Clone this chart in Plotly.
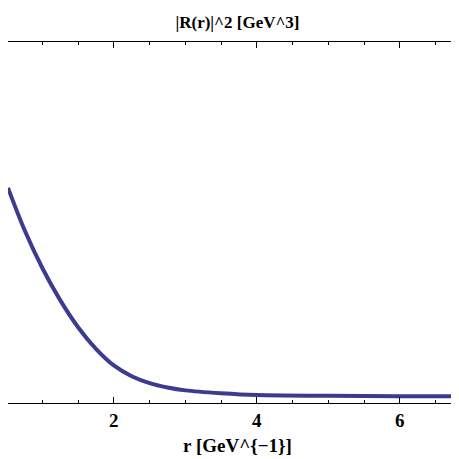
import plotly.graph_objects as go

r = [0.52, 0.75, 1.0, 1.25, 1.5, 1.75, 2.0, 2.25, 2.5, 2.75, 3.0, 3.5, 4.0, 5.0, 6.0, 7.0]
R2 = [0.596, 0.48, 0.374, 0.285, 0.21, 0.15, 0.104, 0.074, 0.055, 0.043, 0.035, 0.027, 0.022, 0.02, 0.019, 0.019]

fig = go.Figure(go.Scatter(x=r, y=R2, mode="lines", line=dict(color="#3b3b8f", width=4, shape="spline"),
                           showlegend=False))
font = dict(family="Times New Roman, Liberation Serif, serif", size=19, color="black")
fig.update_layout(
    width=459, height=459, margin=dict(l=0, r=0, t=34, b=64, autoexpand=False),
    plot_bgcolor="white", paper_bgcolor="white",
    title=dict(text="<b>|R(r)|^2 [GeV^3]</b>", x=0.5, xanchor="center", y=0.97, yanchor="middle",
               font=dict(family="Times New Roman, Liberation Serif, serif", size=17, color="black")),
    xaxis=dict(range=[0.52, 6.94], tickvals=[2, 4, 6], ticktext=["<b>2</b>", "<b>4</b>", "<b>6</b>"],
               ticks="inside", ticklen=6, tickcolor="black", showline=True, linecolor="black", mirror="ticks",
               showgrid=False, zeroline=False, tickfont=font,
               minor=dict(tickvals=[1, 1.5, 2.5, 3, 3.5, 4.5, 5, 5.5, 6.5], ticks="inside", ticklen=3, tickcolor="black"),
               title=dict(text="<b>r [GeV^{\u22121}]</b>", font=font, standoff=8)),
    yaxis=dict(range=[0, 1], showticklabels=False, ticks="", showgrid=False, zeroline=False, showline=False),
)
fig.write_html("out.html")
